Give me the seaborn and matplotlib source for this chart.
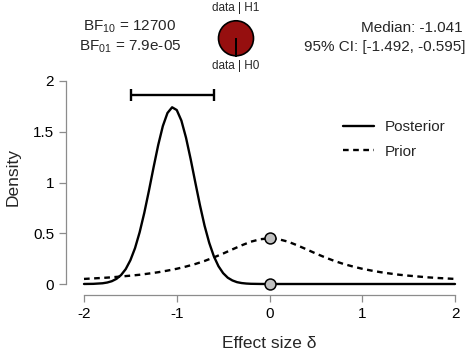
import matplotlib
matplotlib.use('Agg')
import matplotlib.pyplot as plt
import seaborn as sns
import numpy as np

# values
prior_x = [-2.0, -1.9, -1.8, -1.7, -1.6, -1.5, -1.4, -1.3, -1.2, -1.1, -1.0,
           -0.9, -0.8, -0.7, -0.6, -0.5, -0.4, -0.3, -0.2, -0.1, 0.0,
           0.1, 0.2, 0.3, 0.4, 0.5, 0.6, 0.7, 0.8, 0.9, 1.0,
           1.1, 1.2, 1.3, 1.4, 1.5, 1.6, 1.7, 1.8, 1.9, 2.0]
prior_y = [0.050, 0.055, 0.060, 0.066, 0.074, 0.082, 0.091, 0.103, 0.116, 0.132, 0.150,
           0.172, 0.197, 0.227, 0.262, 0.300, 0.341, 0.381, 0.417, 0.441, 0.450,
           0.441, 0.417, 0.381, 0.341, 0.300, 0.262, 0.227, 0.197, 0.172, 0.150,
           0.132, 0.116, 0.103, 0.091, 0.082, 0.074, 0.066, 0.060, 0.055, 0.050]

post_x = [-2.0, -1.9, -1.8, -1.75, -1.7, -1.65, -1.6, -1.55, -1.5, -1.45, -1.4,
          -1.35, -1.3, -1.25, -1.2, -1.15, -1.1, -1.05, -1.0, -0.95, -0.9,
          -0.85, -0.8, -0.75, -0.7, -0.65, -0.6, -0.55, -0.5, -0.45, -0.4,
          -0.35, -0.3, -0.25, -0.2, -0.1, 0.0, 1.0, 2.0]
post_y = [0.0003, 0.0015, 0.0072, 0.0145, 0.0277, 0.0507, 0.0886, 0.147, 0.234, 0.353, 0.510,
          0.701, 0.919, 1.149, 1.369, 1.556, 1.685, 1.741, 1.714, 1.610, 1.441,
          1.230, 1.001, 0.777, 0.574, 0.406, 0.273, 0.175, 0.107, 0.062, 0.035,
          0.018, 0.0093, 0.0045, 0.002, 0.0005, 0.0, 0.0, 0.0]

point_x = [0.0, 0.0]
point_y = [0.450, 0.0]

bf10 = 12700
bf01 = 7.9e-05
median = -1.041
ci_low, ci_high = -1.492, -0.595

sns.set_style('ticks')
plt.rcParams['font.family'] = ['Liberation Sans', 'DejaVu Sans']
plt.rcParams['mathtext.fontset'] = 'custom'
plt.rcParams['mathtext.rm'] = 'Liberation Sans'
plt.rcParams['mathtext.it'] = 'Liberation Sans'

fig = plt.figure(figsize=(4.74, 3.58), dpi=100)
ax = fig.add_axes([84 / 474, 74 / 358, 371 / 474, 203 / 358])

sns.lineplot(x=post_x, y=post_y, ax=ax, color='black', lw=1.7, label='Posterior', clip_on=False)
sns.lineplot(x=prior_x, y=prior_y, ax=ax, color='black', lw=1.7, label='Prior', clip_on=False)
ax.lines[1].set_linestyle((0, (2.4, 1.9)))
ax.scatter(point_x, point_y, s=62, color='#c0c0c0', edgecolor='black', linewidth=1.1,
           zorder=5, clip_on=False)

# credible interval bar
ax.errorbar(median, 1.86, xerr=[[median - ci_low], [ci_high - median]], fmt='none',
            ecolor='black', elinewidth=1.7, capsize=4.5, capthick=1.7)

ax.set_xlim(-2, 2)
ax.set_ylim(0, 2)
ax.set_xticks([-2, -1, 0, 1, 2])
ax.set_xticklabels(['-2', '-1', '0', '1', '2'])
ax.set_yticks([0, 0.5, 1, 1.5, 2])
ax.set_yticklabels(['0', '0.5', '1', '1.5', '2'])
sns.despine(ax=ax)
ax.spines['left'].set_position(('outward', 13))
ax.spines['bottom'].set_position(('outward', 8))
for s in ['left', 'bottom']:
    ax.spines[s].set_color('#8c8c8c')
    ax.spines[s].set_linewidth(0.9)
ax.tick_params(axis='both', colors='#8c8c8c', labelcolor='black', labelsize=11,
               length=5, width=0.9)
ax.set_xlabel('Effect size δ', fontsize=12.5, labelpad=11)
ax.set_ylabel('Density', fontsize=12.5)
ax.yaxis.set_label_coords(-0.172, 0.527)

ax.legend(loc='upper left', bbox_to_anchor=(343 / 474, 1 - 120 / 358),
          bbox_transform=fig.transFigure, frameon=False, fontsize=11,
          borderpad=0, borderaxespad=0,
          handlelength=2.0, handletextpad=0.7, labelspacing=0.7)

# header texts
H = 358
fig.text(130 / 474, 1 - 31 / H, 'BF$_{10}$ = 12700', ha='center', va='baseline', fontsize=11)
fig.text(130 / 474, 1 - 50.5 / H, 'BF$_{01}$ = 7.9e-05', ha='center', va='baseline', fontsize=11)
fig.text(463 / 474, 1 - 32 / H, 'Median: -1.041', ha='right', va='baseline', fontsize=11)
fig.text(465 / 474, 1 - 51.5 / H, '95% CI: [-1.492, -0.595]', ha='right', va='baseline', fontsize=11)

# probability wheel
r = 17.5
pax = fig.add_axes([(236 - r) / 474, 1 - (38.3 + r) / H, 2 * r / 474, 2 * r / H])
pax.pie([bf10 / (bf10 + 1), 1 / (bf10 + 1)], colors=['#960f0f', 'white'], startangle=-90,
        wedgeprops=dict(edgecolor='black', linewidth=1.2))
pax.set_xlim(-1, 1)
pax.set_ylim(-1, 1)
pax.set_aspect('equal')
for p in pax.patches:
    p.set_clip_on(False)
fig.text(236 / 474, 1 - 11 / H, 'data | H1', ha='center', va='baseline', fontsize=8.5)
fig.text(236 / 474, 1 - 69 / H, 'data | H0', ha='center', va='baseline', fontsize=8.5)

fig.savefig('out.png', dpi=100)
